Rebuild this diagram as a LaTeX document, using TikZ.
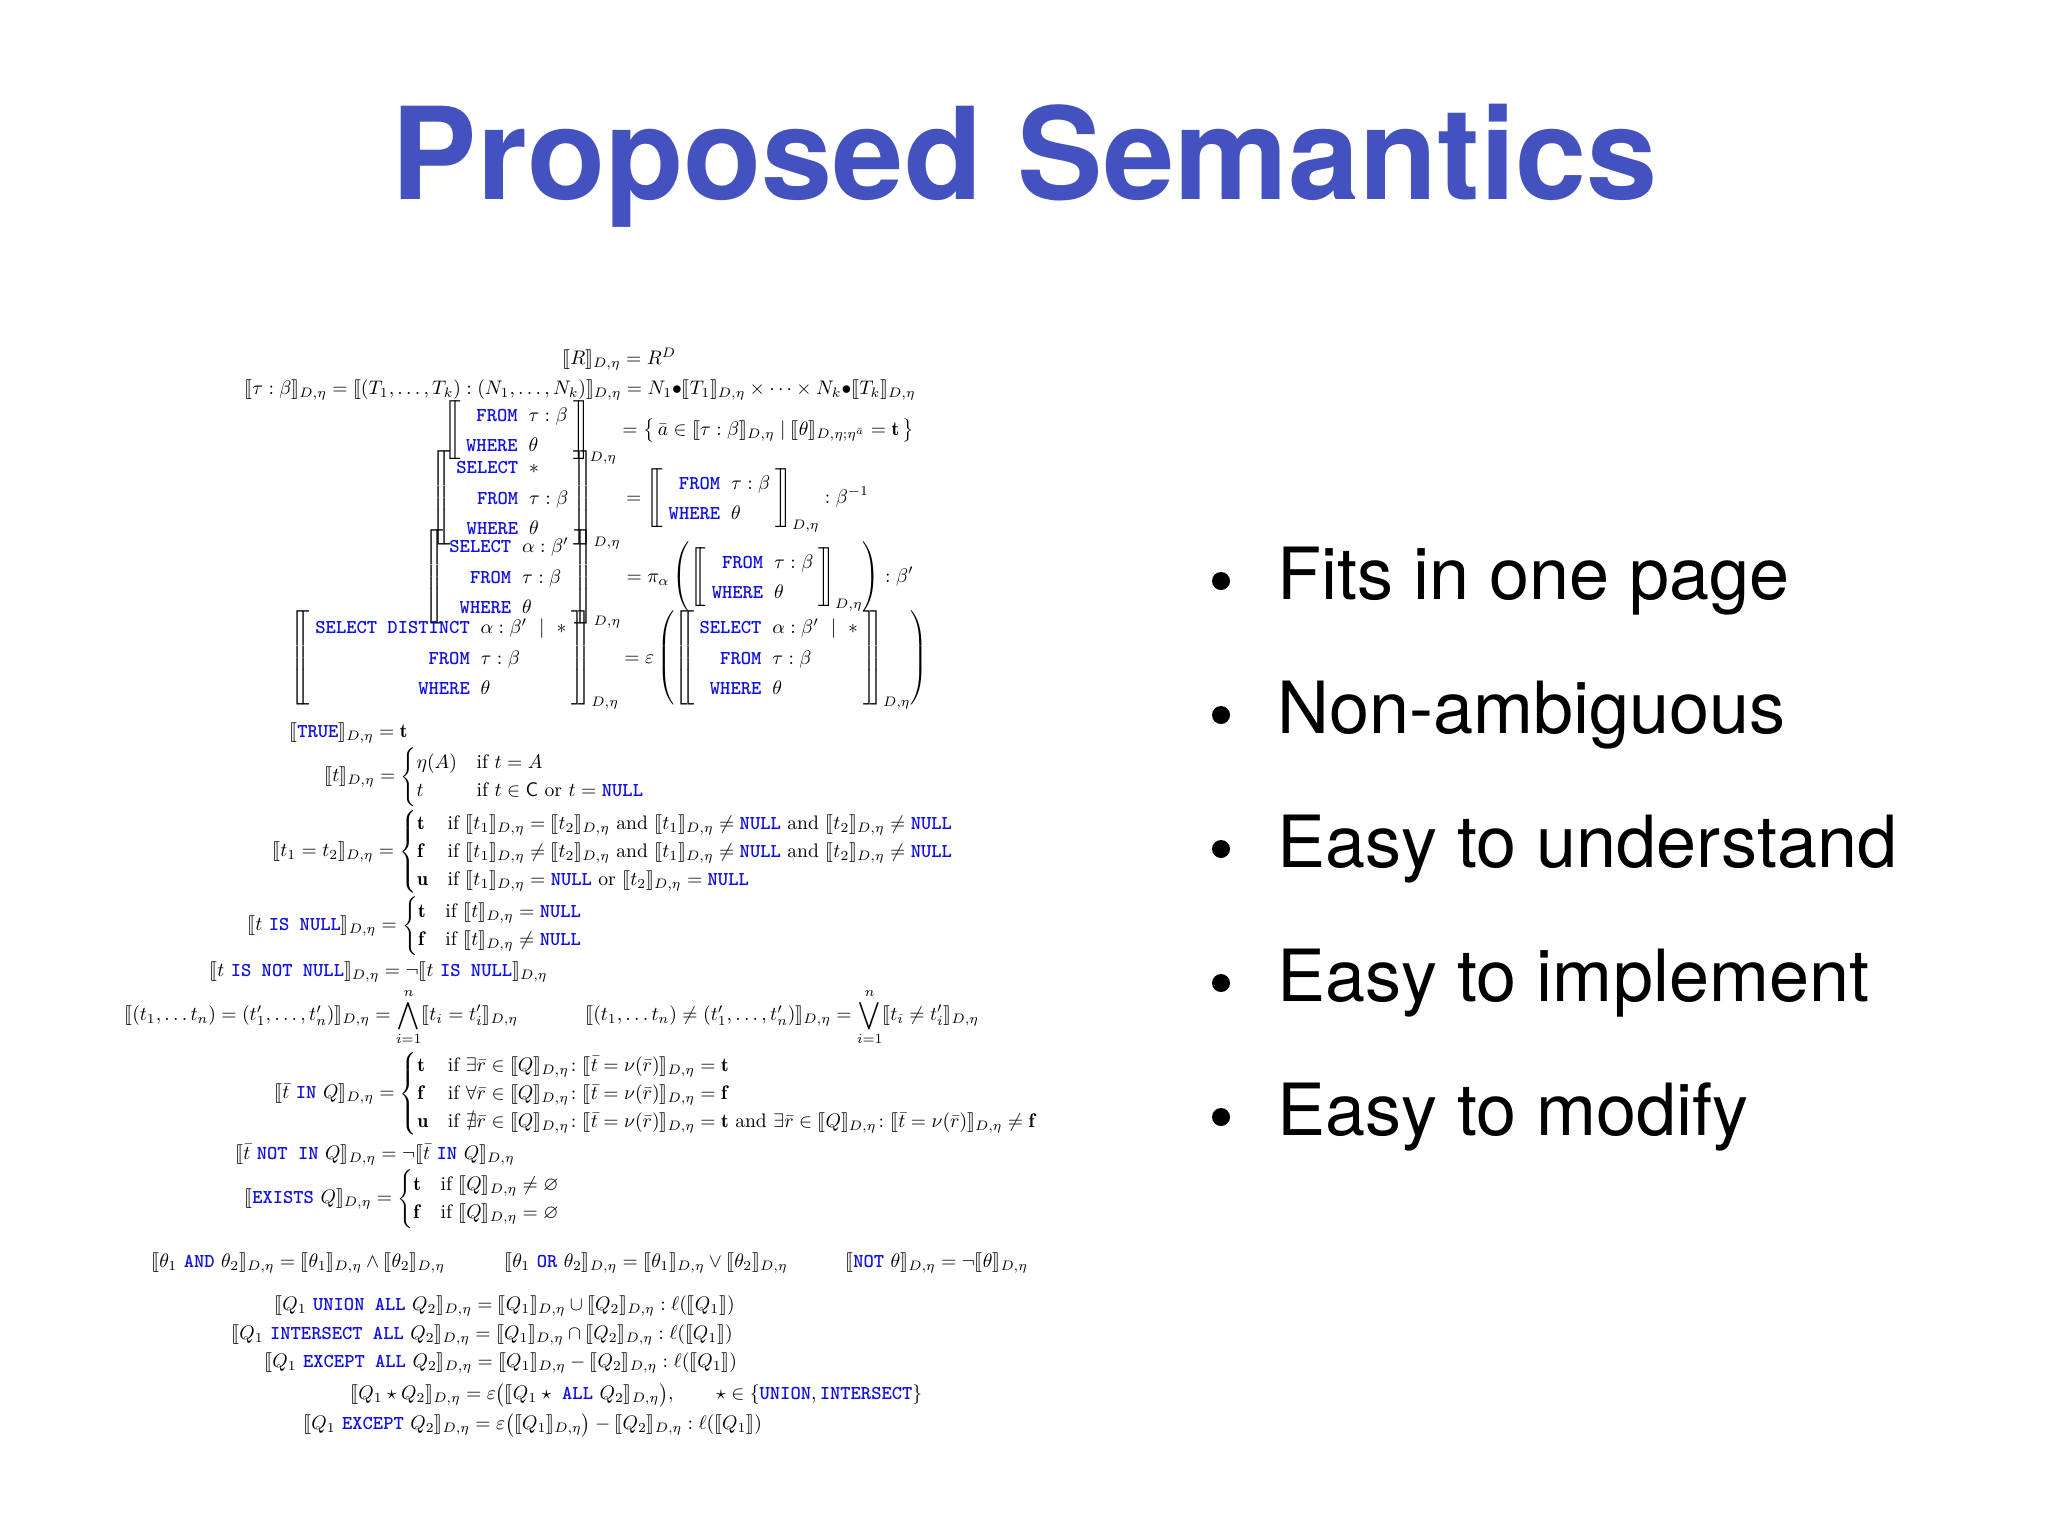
\documentclass[tikz,border=0pt]{standalone}
\usepackage{amsmath,amssymb,stmaryrd}
\usepackage{fontspec}
\newfontfamily\hv{TeX Gyre Heros}
\definecolor{titleblue}{HTML}{4352BF}
\definecolor{kwblue}{HTML}{1010E0}
\newcommand\kw[1]{\textcolor{kwblue}{\texttt{\bfseries #1}}}
\newcommand\sem[1]{\llbracket #1\rrbracket_{D,\eta}}
\newcommand\bsem[2]{\left[\!\!\left[\renewcommand\arraystretch{1.3}\begin{array}{@{\;}r@{\;\;}l@{\;}}#1\end{array}\right]\!\!\right]_{#2}}
\tikzset{f/.style={anchor=west,inner sep=0pt,scale=0.98,font=\fontsize{10}{12}\selectfont},
bul/.style={anchor=west,inner sep=0pt,font=\hv\fontsize{36}{42}\selectfont}}
\begin{document}
\begin{tikzpicture}[x=0.5pt,y=-0.5pt]
\useasboundingbox (0,0) rectangle (2048,1536);
\fill[white] (0,0) rectangle (2048,1536);
\node[inner sep=0pt,text=titleblue,font=\hv\bfseries\fontsize{64}{70}\selectfont] (title) at (1025,166) {Proposed Semantics};
\foreach \i/\t/\yy in {1/Fits in one page/581,2/Non-ambiguous/715,3/Easy to understand/849,4/Easy to implement/983,5/Easy to modify/1117}{
 \fill (1221,\yy) circle (4.5pt);
 \node[bul] (b\i) at (1277,\yy) {\t};
}
\node[f] (e1) at (562,359) {$\sem{R} = R^D$};
\node[f] (e2) at (244,390) {$\sem{\tau:\beta} = \llbracket (T_1,\dots,T_k):(N_1,\dots,N_k)\rrbracket_{D,\eta} = N_1{\bullet}\sem{T_1}\times\cdots\times N_k{\bullet}\sem{T_k}$};
\node[f] (e3) at (444,432) {$\bsem{\kw{FROM} & \tau:\beta\\ \kw{WHERE} & \theta}{D,\eta} = \bigl\{\,\bar a\in\sem{\tau:\beta}\mid \llbracket\theta\rrbracket_{D,\eta;\eta^{\bar a}}=\mathbf{t}\,\bigr\}$};
\node[f] (e4) at (431,500) {$\bsem{\kw{SELECT} & *\\ \kw{FROM} & \tau:\beta\\ \kw{WHERE} & \theta}{D,\eta} = \bsem{\kw{FROM} & \tau:\beta\\ \kw{WHERE} & \theta}{D,\eta}:\beta^{-1}$};
\node[f] (e5) at (424,579) {$\bsem{\kw{SELECT} & \alpha:\beta'\\ \kw{FROM} & \tau:\beta\\ \kw{WHERE} & \theta}{D,\eta} = \pi_\alpha\left(\bsem{\kw{FROM} & \tau:\beta\\ \kw{WHERE} & \theta}{D,\eta}\right):\beta'$};
\node[f] (e6) at (290,660) {$\bsem{\kw{SELECT DISTINCT} & \alpha:\beta'\ \mid\ *\\ \kw{FROM} & \tau:\beta\\ \kw{WHERE} & \theta}{D,\eta} = \varepsilon\left(\bsem{\kw{SELECT} & \alpha:\beta'\ \mid\ *\\ \kw{FROM} & \tau:\beta\\ \kw{WHERE} & \theta}{D,\eta}\right)$};
\node[f] (e7) at (289,733) {$\sem{\text{\kw{TRUE}}} = \mathbf{t}$};
\node[f] (e8) at (324,777) {$\sem{t} = \begin{cases}\eta(A) & \text{if } t=A\\ t & \text{if } t\in\mathsf{C} \text{ or } t=\text{\kw{NULL}}\end{cases}$};
\node[f] (e9) at (272,852) {$\sem{t_1=t_2} = \begin{cases}\mathbf{t} & \text{if } \sem{t_1}=\sem{t_2} \text{ and } \sem{t_1}\neq\text{\kw{NULL}} \text{ and } \sem{t_2}\neq\text{\kw{NULL}}\\ \mathbf{f} & \text{if } \sem{t_1}\neq\sem{t_2} \text{ and } \sem{t_1}\neq\text{\kw{NULL}} \text{ and } \sem{t_2}\neq\text{\kw{NULL}}\\ \mathbf{u} & \text{if } \sem{t_1}=\text{\kw{NULL}} \text{ or } \sem{t_2}=\text{\kw{NULL}}\end{cases}$};
\node[f] (e10) at (247,926) {$\sem{t \text{ \kw{IS NULL}}} = \begin{cases}\mathbf{t} & \text{if } \sem{t}=\text{\kw{NULL}}\\ \mathbf{f} & \text{if } \sem{t}\neq\text{\kw{NULL}}\end{cases}$};
\node[f] (e11) at (209,972) {$\sem{t \text{ \kw{IS NOT NULL}}} = \neg\sem{t \text{ \kw{IS NULL}}}$};
\node[f] (e12) at (124,1017) {$\sem{(t_1,\dots t_n)=(t_1',\dots,t_n')} = \displaystyle\bigwedge_{i=1}^{n}\sem{t_i=t_i'}$};
\node[f] (e13) at (585,1017) {$\sem{(t_1,\dots t_n)\neq(t_1',\dots,t_n')} = \displaystyle\bigvee_{i=1}^{n}\sem{t_i\neq t_i'}$};
\node[f] (e14) at (274,1094) {$\sem{\bar t \text{ \kw{IN} } Q} = \begin{cases}\mathbf{t} & \text{if } \exists\bar r\in\sem{Q}\colon \sem{\bar t=\nu(\bar r)}=\mathbf{t}\\ \mathbf{f} & \text{if } \forall\bar r\in\sem{Q}\colon \sem{\bar t=\nu(\bar r)}=\mathbf{f}\\ \mathbf{u} & \text{if } \nexists\bar r\in\sem{Q}\colon \sem{\bar t=\nu(\bar r)}=\mathbf{t} \text{ and } \exists\bar r\in\sem{Q}\colon \sem{\bar t=\nu(\bar r)}\neq\mathbf{f}\end{cases}$};
\node[f] (e15) at (235,1155) {$\sem{\bar t \text{ \kw{NOT IN} } Q} = \neg\sem{\bar t \text{ \kw{IN} } Q}$};
\node[f] (e16) at (244,1199) {$\sem{\text{\kw{EXISTS} } Q} = \begin{cases}\mathbf{t} & \text{if } \sem{Q}\neq\varnothing\\ \mathbf{f} & \text{if } \sem{Q}=\varnothing\end{cases}$};
\node[f] (e17) at (151,1263) {$\sem{\theta_1 \text{ \kw{AND} } \theta_2} = \sem{\theta_1}\wedge\sem{\theta_2}$};
\node[f] (e18) at (504,1263) {$\sem{\theta_1 \text{ \kw{OR} } \theta_2} = \sem{\theta_1}\vee\sem{\theta_2}$};
\node[f] (e19) at (845,1263) {$\sem{\text{\kw{NOT} } \theta} = \neg\sem{\theta}$};
\node[f] (e20) at (274,1306) {$\sem{Q_1 \text{ \kw{UNION ALL} } Q_2} = \sem{Q_1}\cup\sem{Q_2}:\ell(\llbracket Q_1\rrbracket)$};
\node[f] (e21) at (231,1335) {$\sem{Q_1 \text{ \kw{INTERSECT ALL} } Q_2} = \sem{Q_1}\cap\sem{Q_2}:\ell(\llbracket Q_1\rrbracket)$};
\node[f] (e22) at (264,1363) {$\sem{Q_1 \text{ \kw{EXCEPT ALL} } Q_2} = \sem{Q_1}-\sem{Q_2}:\ell(\llbracket Q_1\rrbracket)$};
\node[f] (e23) at (350,1395) {$\sem{Q_1\star Q_2} = \varepsilon\bigl(\llbracket Q_1\star\text{ \kw{ALL} } Q_2\rrbracket_{D,\eta}\bigr),\qquad \star\in\{\text{\kw{UNION}},\text{\kw{INTERSECT}}\}$};
\node[f] (e24) at (303,1425) {$\sem{Q_1 \text{ \kw{EXCEPT} } Q_2} = \varepsilon\bigl(\llbracket Q_1\rrbracket_{D,\eta}\bigr)-\sem{Q_2}:\ell(\llbracket Q_1\rrbracket)$};
\end{tikzpicture}
\end{document}
